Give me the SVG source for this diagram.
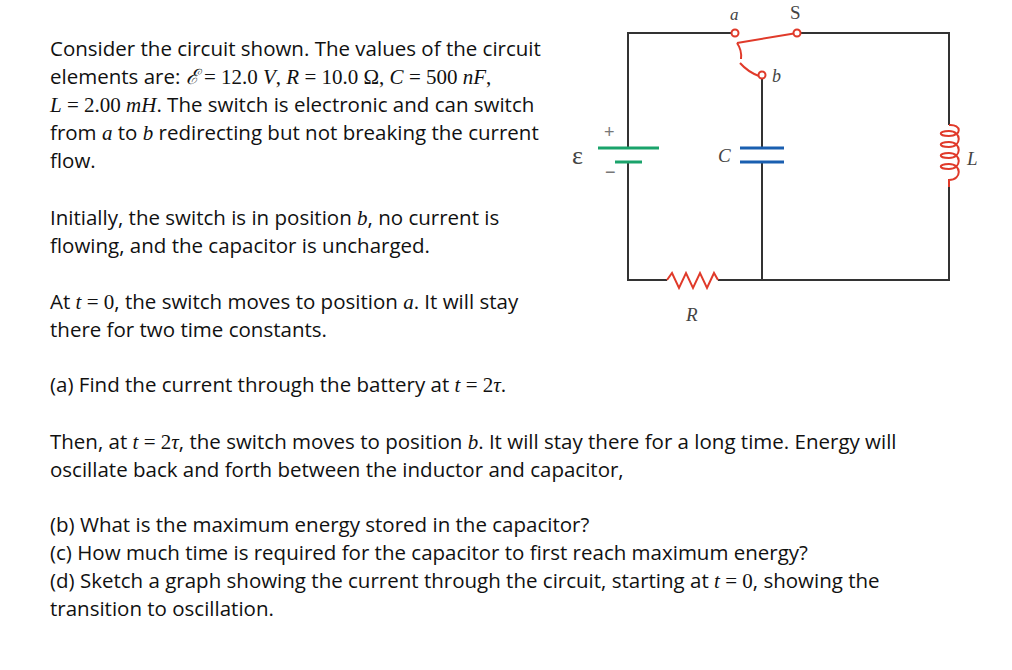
<svg xmlns="http://www.w3.org/2000/svg" width="1012" height="670" viewBox="0 0 1012 670">
<style>
.t{font-family:"Open Sans","Liberation Sans",sans-serif;font-size:20.5px;fill:#111}
.m{font-family:"Liberation Serif",serif;font-size:21px}
.i{font-style:italic}
.w{stroke:#333;stroke-width:2;fill:none}
.r{stroke:#e03a2a;stroke-width:2;fill:none}
.lb{font-family:"Liberation Serif",serif;font-style:italic;font-size:17px;fill:#444}
</style>
<rect width="1012" height="670" fill="#fff"/>
<g id="text">
<text class="t" x="50" y="56">Consider the circuit shown. The values of the circuit</text>
<text class="t" x="50" y="84">elements are: <tspan class="m i">ℰ</tspan><tspan class="m"> = 12.0 </tspan><tspan class="m i">V</tspan><tspan class="m">, </tspan><tspan class="m i">R</tspan><tspan class="m"> = 10.0 Ω, </tspan><tspan class="m i">C</tspan><tspan class="m"> = 500 </tspan><tspan class="m i">nF</tspan><tspan class="m">,</tspan></text>
<text class="t" x="50" y="112"><tspan class="m i">L</tspan><tspan class="m"> = 2.00 </tspan><tspan class="m i">mH</tspan>. The switch is electronic and can switch</text>
<text class="t" x="50" y="140">from <tspan class="m i">a</tspan> to <tspan class="m i">b</tspan> redirecting but not breaking the current</text>
<text class="t" x="50" y="168">flow.</text>
<text class="t" x="50" y="225">Initially, the switch is in position <tspan class="m i">b</tspan>, no current is</text>
<text class="t" x="50" y="253">flowing, and the capacitor is uncharged.</text>
<text class="t" x="50" y="309">At <tspan class="m i">t</tspan><tspan class="m"> = 0</tspan>, the switch moves to position <tspan class="m i">a</tspan>. It will stay</text>
<text class="t" x="50" y="337">there for two time constants.</text>
<text class="t" x="50" y="392">(a) Find the current through the battery at <tspan class="m i">t</tspan><tspan class="m"> = 2</tspan><tspan class="m i">τ</tspan>.</text>
<text class="t" x="50" y="449">Then, at <tspan class="m i">t</tspan><tspan class="m"> = 2</tspan><tspan class="m i">τ</tspan>, the switch moves to position <tspan class="m i">b</tspan>. It will stay there for a long time. Energy will</text>
<text class="t" x="50" y="477">oscillate back and forth between the inductor and capacitor,</text>
<text class="t" x="50" y="532">(b) What is the maximum energy stored in the capacitor?</text>
<text class="t" x="50" y="560">(c) How much time is required for the capacitor to first reach maximum energy?</text>
<text class="t" x="50" y="588">(d) Sketch a graph showing the current through the circuit, starting at <tspan class="m i">t</tspan><tspan class="m"> = 0</tspan>, showing the</text>
<text class="t" x="50" y="616">transition to oscillation.</text>
</g>
<g id="connectors">
<path class="w" d="M732,33 H628 V148 M628,162 V280 H667 M718,280 H949 V187 M949,125 V33 H801 M762,79 V148 M762,162 V280"/>
</g>
<g id="battery">
<line x1="598" y1="148" x2="659" y2="148" stroke="#1aa36b" stroke-width="3"/>
<line x1="615" y1="162" x2="642" y2="162" stroke="#1aa36b" stroke-width="3"/>
<text class="lb" x="572" y="164" style="font-size:26px;font-style:normal">ε</text>
<text x="604" y="138" font-family="Liberation Sans,sans-serif" font-size="18" fill="#777">+</text>
<text x="605" y="178" font-family="Liberation Sans,sans-serif" font-size="18" fill="#777">−</text>
</g>
<g id="capacitor">
<line x1="740" y1="148" x2="784" y2="148" stroke="#1a5fb0" stroke-width="3"/>
<line x1="740" y1="162" x2="784" y2="162" stroke="#1a5fb0" stroke-width="3"/>
<text class="lb" x="718" y="162" style="font-size:19px">C</text>
</g>
<g id="inductor">
<path class="r" d="M949,125 C962,124 962,136 949,136 C938,136 938,131 949,131 C962,131 962,147 949,147 C938,147 938,142 949,142 C962,142 962,158 949,158 C938,158 938,153 949,153 C962,153 962,169 949,169 C938,169 938,164 949,164 C962,164 962,180 949,180 V187"/>
<text class="lb" x="967" y="165" style="font-size:19px">L</text>
</g>
<g id="resistor">
<path class="r" d="M667,280 L672,273 L679,288 L686,273 L693,288 L700,273 L707,288 L714,273 L718,280"/>
<text class="lb" x="686" y="321" style="font-size:19px">R</text>
</g>
<g id="switch">
<line class="r" x1="737" y1="43" x2="797" y2="33"/>
<path class="r" d="M737,43 Q742,50 741,59 M740,63 Q748,72 759,76"/>
<circle cx="735" cy="33" r="3.5" fill="#fff" stroke="#e03a2a" stroke-width="2"/>
<circle cx="797" cy="33" r="3.5" fill="#fff" stroke="#e03a2a" stroke-width="2"/>
<circle cx="762" cy="75" r="3.5" fill="#fff" stroke="#e03a2a" stroke-width="2"/>
<text class="lb" x="730" y="20" style="font-size:17px">a</text>
<text class="lb" x="790" y="19" style="font-size:19px;font-style:normal">S</text>
<text class="lb" x="772" y="82" style="font-size:18px">b</text>
</g>
</svg>
